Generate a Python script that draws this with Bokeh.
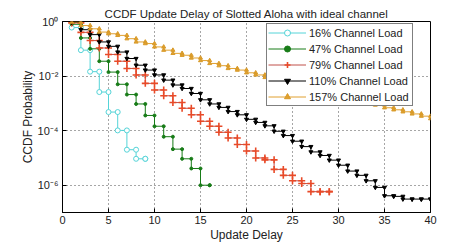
from bokeh.plotting import figure
from bokeh.models import Range1d, FixedTicker, Legend, LegendItem, CustomJSTickFormatter
from bokeh.embed import file_html
from bokeh.resources import INLINE

FONT = "Liberation Sans"

# Update delay (slots) and CCDF values for each channel load
delay_16 = list(range(1, 10))
ccdf_16 = [0.60, 0.089, 0.0145, 2.6e-3, 4.8e-4, 1.02e-4, 2.0e-5, 9.3e-6, 9.3e-6]

delay_47 = list(range(1, 17))
ccdf_47 = [0.79, 0.25, 0.10, 0.035, 0.014, 5.0e-3, 2.1e-3, 9.5e-4, 3.6e-4, 1.45e-4,
           6.0e-5, 2.1e-5, 9.3e-6, 4.1e-6, 1.0e-6, 1.0e-6]

delay_79 = list(range(1, 30))
ccdf_79 = [0.89, 0.40, 0.20, 0.107, 0.062, 0.035, 0.019, 0.011, 5.4e-3, 3.1e-3,
           1.9e-3, 1.07e-3, 6.6e-4, 3.8e-4, 2.2e-4, 1.45e-4, 8.7e-5, 5.4e-5, 3.1e-5, 1.8e-5,
           1.0e-5, 8.5e-6, 3.8e-6, 2.3e-6, 1.45e-6, 1.15e-6, 5.8e-7, 5.8e-7, 5.8e-7]

delay_110 = list(range(1, 41))
ccdf_110 = [0.93, 0.50, 0.33, 0.178, 0.123, 0.076, 0.044, 0.025, 0.0166, 0.011,
            7.1e-3, 4.7e-3, 3.5e-3, 2.3e-3, 1.35e-3, 9.5e-4, 7.1e-4, 5.0e-4, 3.8e-4, 2.6e-4,
            2.0e-4, 1.5e-4, 9.5e-5, 6.6e-5, 4.1e-5, 2.6e-5, 1.66e-5, 1.23e-5, 8.3e-6, 5.4e-6,
            3.3e-6, 2.3e-6, 1.45e-6, 8.3e-7, 4.1e-7, 3.9e-7, 3.1e-7, 3.1e-7, 3.1e-7, 3.1e-7]

delay_157 = list(range(1, 41))
ccdf_157 = [0.95, 0.71, 0.54, 0.41, 0.355, 0.31, 0.234, 0.178, 0.155, 0.117,
            0.089, 0.068, 0.058, 0.046, 0.037, 0.029, 0.024, 0.019, 0.0166, 0.0132,
            0.011, 8.9e-3, 7.6e-3, 6.3e-3, 5.0e-3, 4.3e-3, 3.5e-3, 2.9e-3, 2.3e-3, 1.95e-3,
            1.6e-3, 1.3e-3, 1.07e-3, 8.7e-4, 6.9e-4, 5.8e-4, 4.9e-4, 4.1e-4, 3.4e-4, 2.75e-4]

x_ticks = [0, 5, 10, 15, 20, 25, 30, 35, 40]
y_ticks = [1e-6, 1e-4, 1e-2, 1.0]


def stairs(x, y):
    """Vertices of a stair-step line: hold each value until the next delay."""
    xs, ys = [x[0]], [y[0]]
    for i in range(1, len(x)):
        xs += [x[i], x[i]]
        ys += [y[i - 1], y[i]]
    return xs, ys


p = figure(width=474, height=244, x_range=Range1d(0, 40), y_range=Range1d(1e-7, 1),
           y_axis_type="log", output_backend="svg", toolbar_location=None,
           title="CCDF Update Delay of Slotted Aloha with ideal channel",
           min_border_left=62, min_border_right=44, min_border_top=21, min_border_bottom=29)
p.background_fill_color = "white"
p.border_fill_color = "white"
p.outline_line_color = "black"
p.outline_line_width = 1

p.title.align = "center"
p.title.text_font = FONT
p.title.text_font_size = "11.5px"
p.title.text_font_style = "normal"
p.title.text_color = "#222222"
p.title.standoff = 3

series = [
    ("16% Channel Load", delay_16, ccdf_16, "#55d4d8", "#55d4d8", "circle", 5, "white"),
    ("47% Channel Load", delay_47, ccdf_47, "#187c18", "#187c18", "circle", 3, "#187c18"),
    ("79% Channel Load", delay_79, ccdf_79, "#c0504a", "#e84a28", "cross", 7, "#e84a28"),
    ("110% Channel Load", delay_110, ccdf_110, "#000000", "#000000", "inverted_triangle", 4, "#000000"),
    ("157% Channel Load", delay_157, ccdf_157, "#e0a030", "#d89a28", "triangle", 4, "#e0a030"),
]

items = []
for label, xd, yd, lcol, mcol, marker, size, fill in series:
    xs, ys = stairs(xd, yd)
    ln = p.line(xs, ys, line_color=lcol, line_width=1)
    lw = 1.6 if marker == "cross" else 1
    sc = p.scatter(xs, ys, marker=marker, size=size, line_color=mcol, fill_color=fill,
                   line_width=lw)
    items.append(LegendItem(label=label, renderers=[ln, sc]))

bottom = p.below[0]
left = p.left[0]
bottom.ticker = FixedTicker(ticks=x_ticks)
left.ticker = FixedTicker(ticks=y_ticks)
left.formatter = CustomJSTickFormatter(code="""
    const e = Math.round(Math.log10(tick));
    const sup = {'-':'\\u207b','0':'\\u2070','1':'\\u00b9','2':'\\u00b2','3':'\\u00b3',
                 '4':'\\u2074','5':'\\u2075','6':'\\u2076','7':'\\u2077','8':'\\u2078','9':'\\u2079'};
    return '10' + String(e).split('').map(c => sup[c]).join('');
""")

for ax in [bottom, left]:
    ax.major_tick_in = 4
    ax.major_tick_out = 0
    ax.minor_tick_in = 0
    ax.minor_tick_out = 0
    ax.axis_line_color = "black"
    ax.major_tick_line_color = "black"
    ax.major_label_text_font = FONT
    ax.major_label_text_font_size = "11px"
    ax.major_label_text_color = "#222222"
    ax.axis_label_text_font = FONT
    ax.axis_label_text_font_size = "12px"
    ax.axis_label_text_font_style = "normal"
    ax.axis_label_text_color = "#222222"

bottom.axis_label = "Update Delay"
bottom.major_label_standoff = 3
bottom.axis_label_standoff = 1
left.axis_label = "CCDF Probability"
left.major_label_standoff = 4
left.axis_label_standoff = 0

# dotted grid
for g in [p.xgrid[0], p.ygrid[0]]:
    g.grid_line_color = "black"
    g.grid_line_dash = "1 3"
    g.grid_line_alpha = 0.7

legend = Legend(items=items, location=(204, 106), padding=1, spacing=1, margin=0,
                label_height=15, glyph_height=15, glyph_width=38, label_standoff=3,
                label_width=102, label_text_font=FONT, label_text_font_size="11px",
                label_text_color="#222222", border_line_color="black", border_line_width=1,
                background_fill_color="white", background_fill_alpha=1)
p.add_layout(legend)

open("out.html", "w").write(file_html(p, INLINE))
